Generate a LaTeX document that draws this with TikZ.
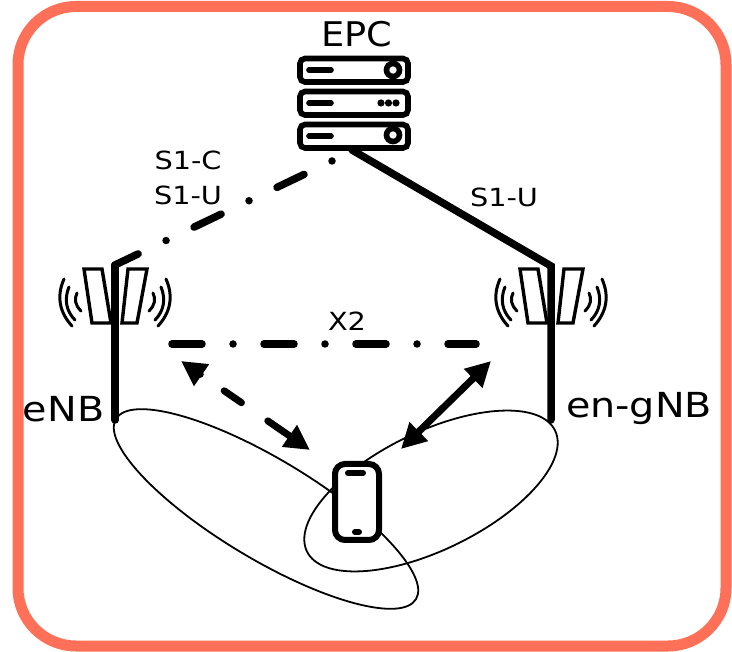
\documentclass[tikz,border=0pt]{standalone}
\usepackage{fontspec}
\setmainfont{DejaVu Sans}
\newfontfamily\labfont[FakeStretch=1.15]{DejaVu Sans}
\newfontfamily\epcfont[FakeStretch=1.08]{DejaVu Sans}
\usetikzlibrary{arrows.meta}
\definecolor{frameorange}{HTML}{FF7058}
\tikzset{
  every node/.style={inner sep=0pt,outer sep=0pt,text=black},
  frame/.style={draw=frameorange,line width=11pt,rounded corners=58pt},
  link/.style={line width=7.5pt,line cap=round,black},
  dashdotA/.style={link,dash pattern=on 0pt off 31pt on 30pt off 31pt},
  dashdotB/.style={link,dash pattern=on 30pt off 31pt on 0pt off 31pt},
  cell/.style={draw=black,line width=1.8pt},
  icon/.style={draw=black,line width=5.6pt},
  panel/.style={draw=black,line width=3.4pt,fill=white,line join=miter},
  wave/.style={draw=black,line width=3pt,line cap=round},
  biglabel/.style={font=\labfont\fontsize{34.5}{36}\selectfont},
  smalllabel/.style={font=\labfont\fontsize{25}{28}\selectfont},
}
\begin{document}
\begin{tikzpicture}[x=1pt,y=-1pt]
\useasboundingbox (0,0) rectangle (732,652);
\fill[white] (0,0) rectangle (732,652);
\draw[frame] (18,6.5) rectangle (726,646);

% ellipses
\draw[cell] (266,509) ellipse[x radius=175,y radius=50,rotate=-31];
\draw[cell] (431,491) ellipse[x radius=138,y radius=59,rotate=26];

% anchors
\coordinate (epcL) at (332,161);
\coordinate (epcR) at (352,150);
\coordinate (enbTop) at (115,265);
\coordinate (enbBot) at (115,420);
\coordinate (gnbTop) at (551,266);
\coordinate (gnbBot) at (551,420);
\coordinate (x2a) at (172,344);
\coordinate (x2b) at (476,344);
\coordinate (ueA) at (310,450);
\coordinate (ueB) at (401,449);
\coordinate (enbA) at (181,361);
\coordinate (gnbA) at (491,361);

% antennas
\foreach \dx in {0,436}{
\begin{scope}[xshift=\dx pt]
  \draw[panel] (84,269) -- (102,269) -- (111,323) -- (92,323) -- cycle;
  \draw[panel] (128,269) -- (147,269) -- (137,323) -- (122,323) -- cycle;
  \draw[wave] (64,279) .. controls (56,297) and (60,313) .. (72,326);
  \draw[wave] (69,287) .. controls (64,299) and (66,311) .. (75,320);
  \draw[wave] (77,293) .. controls (74,299) and (75,305) .. (81,311);
  \draw[wave] (166,279) .. controls (174,297) and (170,313) .. (158,326);
  \draw[wave] (161,287) .. controls (166,299) and (164,311) .. (155,320);
  \draw[wave] (153,293) .. controls (156,299) and (155,305) .. (149,311);
\end{scope}}

% links
\draw[link] (enbTop) -- (enbBot);
\draw[link] (epcR) -- (gnbTop) -- (gnbBot);
\draw[dashdotA] (epcL) -- (enbTop);
\draw[dashdotB] (x2a) -- (x2b);
\draw[{Triangle[length=25pt,width=25pt]}-{Triangle[length=25pt,width=25pt]},line width=7pt,line cap=round,dash pattern=on 21pt off 32pt on 60pt off 29pt,dash phase=113pt] (enbA) -- (ueA);
\draw[{Triangle[length=25pt,width=25pt]}-{Triangle[length=25pt,width=25pt]},line width=7pt] (gnbA) -- (ueB);

% server
\foreach \y in {56,89,122}{
  \draw[icon,rounded corners=5pt] (300,\y+2.5) rectangle (408,\y+26);
  \draw[icon,line cap=round] (309,\y+14) -- (331,\y+14);
}
\draw[icon] (393,70) circle (6.5);
\draw[icon] (393,135) circle (6.5);
\foreach \x in {381,388.5,396}{\fill (\x,103) circle (3.6);}

% phone
\draw[draw=black,line width=6pt,fill=white,rounded corners=10pt] (335,464) rectangle (379,540);
\draw[link,line width=6pt] (348,473) -- (363,473);
\draw[link,line width=6pt] (355,532) -- (359,532);

% labels
\node[font=\epcfont\fontsize{34}{36}\selectfont] (epc) at (357,34) {EPC};
\node[biglabel,anchor=west] (enb) at (23,409) {eNB};
\node[biglabel,anchor=west] (gnb) at (566,409) {en-gNB};
\node[smalllabel] (s1c) at (188,160) {S1-C};
\node[smalllabel] (s1ua) at (188,195) {S1-U};
\node[smalllabel] (s1ub) at (504,197) {S1-U};
\node[smalllabel] (x2) at (347,321) {X2};
\end{tikzpicture}
\end{document}
